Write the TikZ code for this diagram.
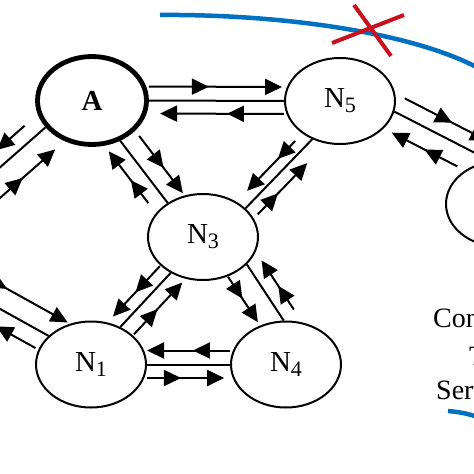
\documentclass[tikz,border=0pt]{standalone}
\usepackage{fontspec}
\setmainfont{Liberation Serif}
\usetikzlibrary{shapes.geometric,calc,arrows.meta,decorations.markings}
\definecolor{arcblue}{RGB}{0,112,192}
\definecolor{crossred}{RGB}{200,16,30}
\newcommand\sbs[1]{\raisebox{-5pt}{\fontsize{22}{22}\selectfont #1}}
\newcommand\flowarrow[6]{%
  \coordinate (fa1) at ($(#1)!#3!90:(#2)$);
  \coordinate (fa2) at ($(#2)!#3!-90:(#1)$);
  \draw[flow, postaction={decorate}, decoration={markings, mark=at position #6 with {\arrow{Triangle[length=17pt,width=16pt]}}}]
    ($(fa1)!#4!(fa2)$) -- ($(fa1)!#5!(fa2)$);
}
\begin{document}
\begin{tikzpicture}[x=1pt,y=-1pt,
  nd/.style={ellipse, draw, line width=2pt, minimum width=110pt, minimum height=86pt, inner sep=0pt, fill=white, font=\fontsize{29}{31}\selectfont},
  link/.style={line width=2pt},
  flow/.style={line width=2pt, -{Triangle[length=17pt,width=16pt]}},
  lbl/.style={inner sep=0pt, font=\fontsize{28}{30}\selectfont},
  arc/.style={line width=4.5pt, arcblue},
  cross/.style={line width=4pt, crossred}]
\useasboundingbox (0,0) rectangle (474,474);
\clip (0,0) rectangle (474,474);
\fill[white] (0,0) rectangle (474,474);

% region boundary
\draw[arc] (160,15) .. controls (270,14) and (410,30) .. (482,70);
\draw[arc] (448,411) .. controls (460,412) and (470,414) .. (480,418);
\draw[cross] (332,43) -- (404,15);
\draw[cross] (354,5) -- (391,56);

% nodes
\node[nd, line width=4.8pt, minimum width=109pt, minimum height=88pt] (A) at (92,100.5) {\bfseries A};
\node[nd] (N5) at (340,101) {N\sbs{5}};
\node[nd] (N3) at (203,237) {N\sbs{3}};
\node[nd] (N1) at (91,364.5) {N\sbs{1}};
\node[nd] (N4) at (286,364.5) {N\sbs{4}};
\node[nd] (R) at (501,204) {};
\node[nd] (L) at (-99,254) {};

% links
\draw[link] (A.east) -- (N5.west);
\draw[link] (A.305) -- (N3.136);
\draw[link] (N5.234) -- (N3.34);
\draw[link] (N3.228) -- (N1.52);
\draw[link] (N3.328) -- (N4.93);
\draw[link] (N1.east) -- (N4.west);
\draw[link] (N5.349) -- (R.104);
\draw[link] (A.210) -- (L.41);
\draw[link] (N1.146) -- (L.331);

% flows
\flowarrow{A.east}{N5.west}{14pt}{0}{0.985}{0.45}
\flowarrow{A.east}{N5.west}{-13pt}{1}{0.083}{0.46}
\flowarrow{A.305}{N3.136}{18pt}{0.097}{1.02}{0.56}
\flowarrow{A.305}{N3.136}{-15.5pt}{0.85}{0.018}{0.44}
\flowarrow{N5.234}{N3.34}{-11pt}{0.137}{0.857}{0.36}
\flowarrow{N5.234}{N3.34}{13pt}{0.957}{0.215}{0.41}
\flowarrow{N3.228}{N1.52}{-12.5pt}{0.034}{0.964}{0.52}
\flowarrow{N3.228}{N1.52}{15pt}{0.946}{-0.012}{0.485}
\flowarrow{N3.328}{N4.93}{-22.5pt}{0}{0.81}{0.48}
\flowarrow{N3.328}{N4.93}{14.5pt}{0.946}{0.07}{0.48}
\flowarrow{N1.east}{N4.west}{14pt}{1}{0}{0.446}
\flowarrow{N1.east}{N4.west}{-13.5pt}{0}{0.93}{0.44}
\flowarrow{N5.349}{R.104}{16.5pt}{0.03}{0.89}{0.574}
\flowarrow{N5.349}{R.104}{-20pt}{0.752}{0.067}{0.5}
\flowarrow{A.210}{L.41}{-15pt}{0.103}{0.85}{0.344}
\flowarrow{A.210}{L.41}{23pt}{0.85}{0.052}{0.62}
\flowarrow{N1.146}{L.331}{-21pt}{0.95}{-0.088}{0.426}
\flowarrow{N1.146}{L.331}{17pt}{0.047}{0.85}{0.48}

% side labels
\node[lbl, anchor=base west] (t1) at (433,327) {Con};
\node[lbl, anchor=base west] (t2) at (469,365) {T};
\node[lbl, anchor=base west] (t3) at (436,399) {Serv};
\end{tikzpicture}
\end{document}
